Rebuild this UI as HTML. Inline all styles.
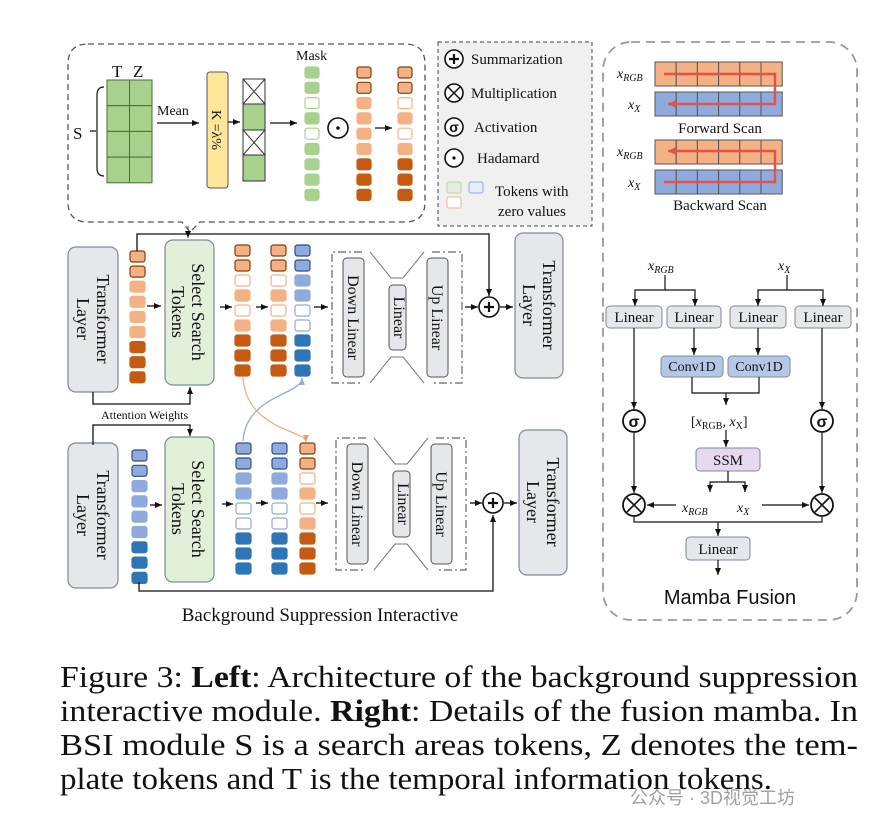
<!DOCTYPE html>
<html><head><meta charset="utf-8">
<style>
html,body{margin:0;padding:0;background:#fff;}
svg{display:block;}
text{font-family:"Liberation Serif",serif;fill:#111;}
.s{font-family:"Liberation Sans",sans-serif;}
</style></head><body>
<svg id="sv" width="884" height="834" viewBox="0 0 884 834" xmlns="http://www.w3.org/2000/svg">
<defs>
<marker id="ar" markerWidth="8" markerHeight="8" refX="7" refY="4" orient="auto" markerUnits="userSpaceOnUse"><path d="M0,1 L7,4 L0,7 z" fill="#111"/></marker>
<marker id="arO" markerWidth="8" markerHeight="8" refX="7" refY="4" orient="auto" markerUnits="userSpaceOnUse"><path d="M0,1 L7,4 L0,7 z" fill="#e8a070"/></marker>
<marker id="arB" markerWidth="8" markerHeight="8" refX="7" refY="4" orient="auto" markerUnits="userSpaceOnUse"><path d="M0,1 L7,4 L0,7 z" fill="#8faadc"/></marker>
<marker id="arR" markerWidth="10" markerHeight="10" refX="8" refY="5" orient="auto" markerUnits="userSpaceOnUse"><path d="M0,1 L8,5 L0,9 z" fill="#e8504a"/></marker>
</defs>

<path d="M88,44 H405 Q425,44 425,64 V202 Q425,222 405,222 H200 L190,232 L182,222 H88 Q68,222 68,202 V64 Q68,44 88,44 Z" fill="none" stroke="#555" stroke-width="1.3" stroke-dasharray="6,4"/>
<line x1="188" y1="226" x2="188" y2="238" stroke="#555" stroke-dasharray="3,2" marker-end="url(#ar)"/>
<g id="grid"></g>
<text x="112" y="77" font-size="17">T</text><text x="133" y="77" font-size="17">Z</text>
<text x="73" y="139" font-size="17">S</text>
<path d="M90,131 H96 M104,87 Q97,87 97,95 V131 V168 Q97,176 104,176" fill="none" stroke="#111" stroke-width="1.2"/>
<text x="157" y="115" font-size="14">Mean</text>
<line x1="157" y1="123" x2="199" y2="123" stroke="#111" stroke-width="1.3" marker-end="url(#ar)"/>
<rect x="207" y="72" width="21" height="116" rx="3" fill="#ffe699" stroke="#555"/>
<text transform="translate(212,130) rotate(90)" text-anchor="middle" font-size="14">K =λ%</text>
<line x1="228" y1="122" x2="240" y2="122" stroke="#111" stroke-width="1.3" marker-end="url(#ar)"/>
<g stroke="#333" stroke-width="1">
<rect x="243" y="79" width="22" height="25" fill="#fff"/><path d="M243,79 L265,104 M265,79 L243,104"/>
<rect x="243" y="104" width="22" height="26" fill="#a9d18e"/>
<rect x="243" y="130" width="22" height="25" fill="#fff"/><path d="M243,130 L265,155 M265,130 L243,155"/>
<rect x="243" y="155" width="22" height="26" fill="#a9d18e"/>
</g>
<line x1="270" y1="123" x2="297" y2="123" stroke="#111" stroke-width="1.3" marker-end="url(#ar)"/>
<text x="296" y="60" font-size="14">Mask</text>
<circle cx="338" cy="128" r="10" fill="#fff" stroke="#111" stroke-width="1.6"/><circle cx="338" cy="128" r="1.8" fill="#111"/>
<line x1="375" y1="128" x2="392" y2="128" stroke="#111" stroke-width="1.3" marker-end="url(#ar)"/>

<rect x="438" y="42" width="154" height="184" fill="#f0f0f0" stroke="#444" stroke-dasharray="4,3"/>
<g stroke="#111" stroke-width="1.6" fill="#fff">
<circle cx="454" cy="59" r="9"/><circle cx="454" cy="93" r="9"/><circle cx="454" cy="127" r="9"/><circle cx="454" cy="158" r="9"/>
</g>
<path d="M449,59 H459 M454,54 V64" stroke="#111" stroke-width="2.2"/>
<path d="M448,87 L460,99 M460,87 L448,99" stroke="#111" stroke-width="1.5"/>
<text x="454" y="132" text-anchor="middle" font-size="14" font-weight="bold" class="s">σ</text>
<circle cx="454" cy="158" r="1.6" fill="#111"/>
<text x="471" y="64" font-size="15">Summarization</text>
<text x="471" y="98" font-size="15">Multiplication</text>
<text x="474" y="132" font-size="15">Activation</text>
<text x="477" y="163" font-size="15">Hadamard</text>
<rect x="447" y="182" width="14" height="11" rx="2" fill="#e2efd9" stroke="#b8d5a8"/>
<rect x="469" y="182" width="14" height="11" rx="2" fill="#e8ecf7" stroke="#8faadc"/>
<rect x="447" y="197" width="14" height="11" rx="2" fill="#fff" stroke="#f4b183"/>
<text x="495" y="196" font-size="15">Tokens with</text>
<text x="498" y="216" font-size="15">zero values</text>

<g stroke="#7f8a9a" stroke-width="1.2">
<rect x="68" y="247" width="50" height="145" rx="8" fill="#e6e7eb"/>
<rect x="165" y="240" width="49" height="145" rx="8" fill="#e2f0d9"/>
<rect x="515" y="233" width="48" height="145" rx="8" fill="#e6e7eb"/>
<rect x="68" y="443" width="50" height="145" rx="8" fill="#e6e7eb"/>
<rect x="165" y="437" width="49" height="145" rx="8" fill="#e2f0d9"/>
<rect x="519" y="430" width="48" height="145" rx="8" fill="#e6e7eb"/>
</g>
<g font-size="18">
<text transform="translate(97,319) rotate(90)" text-anchor="middle">Transformer</text>
<text transform="translate(77,319) rotate(90)" text-anchor="middle">Layer</text>
<text transform="translate(192,312) rotate(90)" text-anchor="middle">Select Search</text>
<text transform="translate(172,312) rotate(90)" text-anchor="middle">Tokens</text>
<text transform="translate(543,305) rotate(90)" text-anchor="middle">Transformer</text>
<text transform="translate(523,305) rotate(90)" text-anchor="middle">Layer</text>
<text transform="translate(97,515) rotate(90)" text-anchor="middle">Transformer</text>
<text transform="translate(77,515) rotate(90)" text-anchor="middle">Layer</text>
<text transform="translate(192,509) rotate(90)" text-anchor="middle">Select Search</text>
<text transform="translate(172,509) rotate(90)" text-anchor="middle">Tokens</text>
<text transform="translate(547,502) rotate(90)" text-anchor="middle">Transformer</text>
<text transform="translate(527,502) rotate(90)" text-anchor="middle">Layer</text>
</g>
<g id="tok"></g>
<g stroke="#111" stroke-width="1.3" fill="none">
<line x1="147" y1="306" x2="161" y2="306" marker-end="url(#ar)"/>
<line x1="220" y1="307" x2="232" y2="307" marker-end="url(#ar)"/>
<line x1="256" y1="307" x2="268" y2="307" marker-end="url(#ar)"/>
<line x1="314" y1="307" x2="328" y2="307" marker-end="url(#ar)"/>
<line x1="465" y1="307" x2="478" y2="307" marker-end="url(#ar)"/>
<line x1="500" y1="307" x2="513" y2="307" marker-end="url(#ar)"/>
<polyline points="137,251 137,234 489,234 489,296" marker-end="url(#ar)"/>
<polyline points="93,392 93,404 190,404 190,387" marker-end="url(#ar)"/>
<line x1="150" y1="505" x2="162" y2="505" marker-end="url(#ar)"/>
<line x1="222" y1="504" x2="233" y2="504" marker-end="url(#ar)"/>
<line x1="256" y1="503" x2="268" y2="503" marker-end="url(#ar)"/>
<line x1="316" y1="503" x2="328" y2="503" marker-end="url(#ar)"/>
<line x1="470" y1="503" x2="482" y2="503" marker-end="url(#ar)"/>
<line x1="504" y1="503" x2="517" y2="503" marker-end="url(#ar)"/>
<polyline points="93,445 93,425 190,425 190,436" marker-end="url(#ar)"/>
<polyline points="139,582 139,591 493,591 493,515" marker-end="url(#ar)"/>
</g>
<text x="101" y="419" font-size="12">Attention Weights</text>
<circle cx="489" cy="307" r="10" fill="#fff" stroke="#111" stroke-width="1.6"/>
<path d="M484,307 H494 M489,302 V312" stroke="#111" stroke-width="2.2"/>
<circle cx="493" cy="503" r="10" fill="#fff" stroke="#111" stroke-width="1.6"/>
<path d="M488,503 H498 M493,498 V508" stroke="#111" stroke-width="2.2"/>
<path d="M243,377 C246,430 306,430 306,442" fill="none" stroke="#f0b080" stroke-width="1.3" marker-end="url(#arO)"/>
<path d="M243,441 C246,395 302,395 302,378" fill="none" stroke="#8faadc" stroke-width="1.3" marker-end="url(#arB)"/>
<g id="dd"></g>
<text x="320" y="621" font-size="19" text-anchor="middle">Background Suppression Interactive</text>

<rect x="603" y="42" width="254" height="578" rx="28" fill="none" stroke="#999" stroke-width="1.8" stroke-dasharray="9,6"/>
<g id="scan"></g>
<g font-size="14">
<text x="617" y="78" font-style="italic">x<tspan font-size="10" dy="3">RGB</tspan></text>
<text x="628" y="109" font-style="italic">x<tspan font-size="10" dy="3">X</tspan></text>
<text x="617" y="156" font-style="italic">x<tspan font-size="10" dy="3">RGB</tspan></text>
<text x="628" y="187" font-style="italic">x<tspan font-size="10" dy="3">X</tspan></text>
<text x="720" y="133" text-anchor="middle" font-size="15">Forward Scan</text>
<text x="720" y="210" text-anchor="middle" font-size="15">Backward Scan</text>
</g>
<g fill="none" stroke="#e8504a" stroke-width="2.5">
<polyline points="664,74 775,74 775,104 668,104" marker-end="url(#arR)"/>
<polyline points="664,182 775,182 775,151 668,151" marker-end="url(#arR)"/>
</g>
<g font-size="14">
<text x="648" y="270" font-style="italic">x<tspan font-size="10" dy="3">RGB</tspan></text>
<text x="778" y="270" font-style="italic">x<tspan font-size="10" dy="3">X</tspan></text>
</g>
<g stroke="#7f8a9a" stroke-width="1">
<rect x="606" y="306" width="56" height="22" rx="4" fill="#e6e7eb"/>
<rect x="667" y="306" width="54" height="22" rx="4" fill="#e6e7eb"/>
<rect x="730" y="306" width="56" height="22" rx="4" fill="#e6e7eb"/>
<rect x="795" y="306" width="56" height="22" rx="4" fill="#e6e7eb"/>
<rect x="661" y="356" width="62" height="21" rx="4" fill="#b4c7e7"/>
<rect x="728" y="356" width="62" height="21" rx="4" fill="#b4c7e7"/>
<rect x="696" y="448" width="64" height="23" rx="4" fill="#e6d8ee"/>
<rect x="686" y="537" width="64" height="23" rx="4" fill="#e6e7eb"/>
</g>
<g font-size="15" text-anchor="middle">
<text x="634" y="322">Linear</text><text x="694" y="322">Linear</text>
<text x="758" y="322">Linear</text><text x="823" y="322">Linear</text>
<text x="692" y="371" font-size="14">Conv1D</text><text x="759" y="371" font-size="14">Conv1D</text>
<text x="728" y="465">SSM</text>
<text x="718" y="554">Linear</text>
</g>
<text x="691" y="426" font-size="14">[<tspan font-style="italic">x</tspan><tspan font-size="10" dy="3">RGB</tspan><tspan dy="-3">, </tspan><tspan font-style="italic">x</tspan><tspan font-size="10" dy="3">X</tspan><tspan dy="-3">]</tspan></text>
<text x="682" y="512" font-size="14" font-style="italic">x<tspan font-size="10" dy="3">RGB</tspan></text>
<text x="737" y="512" font-size="14" font-style="italic">x<tspan font-size="10" dy="3">X</tspan></text>
<g stroke="#111" stroke-width="1.2" fill="none">
<line x1="665" y1="275" x2="665" y2="290"/>
<polyline points="635,305 635,290 695,290 695,305"/>
<line x1="635" y1="298" x2="635" y2="306" marker-end="url(#ar)"/>
<line x1="695" y1="298" x2="695" y2="306" marker-end="url(#ar)"/>
<line x1="787" y1="275" x2="787" y2="290"/>
<polyline points="758,305 758,290 823,290 823,305"/>
<line x1="758" y1="298" x2="758" y2="306" marker-end="url(#ar)"/>
<line x1="823" y1="298" x2="823" y2="306" marker-end="url(#ar)"/>
<line x1="694" y1="328" x2="694" y2="355" marker-end="url(#ar)"/>
<line x1="758" y1="328" x2="758" y2="355" marker-end="url(#ar)"/>
<polyline points="692,377 692,393 759,393 759,377"/>
<line x1="726" y1="393" x2="726" y2="405" marker-end="url(#ar)"/>
<line x1="726" y1="430" x2="726" y2="447" marker-end="url(#ar)"/>
<line x1="728" y1="471" x2="728" y2="482"/>
<polyline points="710,492 710,482 745,482 745,492"/>
<line x1="710" y1="486" x2="710" y2="492" marker-end="url(#ar)"/>
<line x1="745" y1="486" x2="745" y2="492" marker-end="url(#ar)"/>
<line x1="634" y1="328" x2="634" y2="409" marker-end="url(#ar)"/>
<line x1="822" y1="328" x2="822" y2="409" marker-end="url(#ar)"/>
<line x1="634" y1="433" x2="634" y2="493" marker-end="url(#ar)"/>
<line x1="822" y1="433" x2="822" y2="493" marker-end="url(#ar)"/>
<line x1="676" y1="505" x2="647" y2="505" marker-end="url(#ar)"/>
<line x1="762" y1="505" x2="809" y2="505" marker-end="url(#ar)"/>
<polyline points="634,517 634,522 822,522 822,517"/>
<line x1="718" y1="522" x2="718" y2="536" marker-end="url(#ar)"/>
<line x1="718" y1="560" x2="718" y2="575" marker-end="url(#ar)"/>
</g>
<g stroke="#111" stroke-width="1.8" fill="#fff">
<circle cx="634" cy="421" r="11"/><circle cx="822" cy="421" r="11"/>
<circle cx="634" cy="505" r="11"/><circle cx="822" cy="505" r="11"/>
</g>
<text x="634" y="427" text-anchor="middle" font-size="16" font-weight="bold" class="s">σ</text>
<text x="822" y="427" text-anchor="middle" font-size="16" font-weight="bold" class="s">σ</text>
<path d="M627,498 L641,512 M641,498 L627,512 M815,498 L829,512 M829,498 L815,512" stroke="#111" stroke-width="1.6"/>
<text x="730" y="604" text-anchor="middle" font-size="20" class="s">Mamba Fusion</text>

<g font-size="31">
<text x="60" y="687" textLength="798" lengthAdjust="spacingAndGlyphs">Figure 3: <tspan font-weight="bold">Left</tspan>: Architecture of the background suppression</text>
<text x="60" y="721" textLength="798" lengthAdjust="spacingAndGlyphs">interactive module. <tspan font-weight="bold">Right</tspan>: Details of the fusion mamba. In</text>
<text x="60" y="755" textLength="798" lengthAdjust="spacingAndGlyphs">BSI module S is a search areas tokens, Z denotes the tem-</text>
<text x="60" y="789" textLength="712" lengthAdjust="spacingAndGlyphs">plate tokens and T is the temporal information tokens.</text>
</g>
<text x="630" y="804" font-size="18" style="fill:#a0a0a0;font-family:'Liberation Sans','Noto Sans CJK SC',sans-serif">公众号 · 3D视觉工坊</text>
</svg>
<script>
var NS="http://www.w3.org/2000/svg";
function el(p,t,a){var e=document.createElementNS(NS,t);for(var k in a)e.setAttribute(k,a[k]);p.appendChild(e);return e;}
var S={
 oo:["#f4b183","#843c0c"], ol:["#f4b183","#f4b183"], od:["#c55a11","#c55a11"], ow:["#fff","#f4b183"],
 bo:["#8faadc","#2f4f80"], bl:["#8faadc","#8faadc"], bd:["#2e75b6","#2e75b6"], bw:["#fff","#8faadc"],
 g:["#a9d18e","#a9d18e"], gw:["#fff","#a9d18e"]};
var tok=document.getElementById("tok");
function col(x,y,step,list,w,h){list.forEach(function(k,i){var c=S[k];el(tok,"rect",{x:x,y:y+i*step,width:w||15,height:h||11,rx:2.5,fill:c[0],stroke:c[1],"stroke-width":1.2});});}
var O1=["oo","oo","ol","ol","ol","ol","od","od","od"];
var OA=["oo","oo","ow","ol","ow","ol","od","od","od"];
var B1=["bo","bo","bl","bl","bl","bl","bd","bd","bd"];
var BA=["bo","bo","bl","bl","bw","bw","bd","bd","bd"];
col(305,67,15.3,["g","g","gw","g","gw","g","g","g","g"],14,11);
col(357,67,15.3,["oo","oo","ol","ol","ol","ol","od","od","od"],14,11);
col(398,67,15.3,["oo","oo","ow","ol","ow","ol","od","od","od"],14,11);
col(130,251,15.1,O1);
col(235,245,15,OA);col(271,245,15,OA);col(295,245,15,BA);
col(132,450,15.3,B1);
col(236,443,15,BA);col(272,443,15,BA);col(300,443,15,OA);
var g=document.getElementById("grid");
for(var r=0;r<4;r++)for(var c=0;c<2;c++)el(g,"rect",{x:107+c*22.5,y:80+r*25.7,width:22.5,height:25.7,fill:"#a9d18e",stroke:"#4a6a3a","stroke-width":1});
var dd=document.getElementById("dd");
[[252,383,332,462],[438,570,336,466]].forEach(function(b){
 var y1=b[0],y2=b[1],x1=b[2],x2=b[3];
 var p={fill:"none",stroke:"#666","stroke-width":1.2,"stroke-dasharray":"8,3,2,3"};
 el(dd,"polyline",Object.assign({points:(x1+30)+","+y1+" "+x1+","+y1+" "+x1+","+y2+" "+(x1+30)+","+y2},p));
 el(dd,"polyline",Object.assign({points:(x2-30)+","+y1+" "+x2+","+y1+" "+x2+","+y2+" "+(x2-30)+","+y2},p));
 var mx=(x1+x2)/2;
 el(dd,"polyline",{points:(x1+38)+","+y1+" "+(mx-6)+","+(y1+26)+" "+(mx+6)+","+(y1+26)+" "+(x2-38)+","+y1,fill:"none",stroke:"#777","stroke-width":1});
 el(dd,"polyline",{points:(x1+38)+","+y2+" "+(mx-6)+","+(y2-26)+" "+(mx+6)+","+(y2-26)+" "+(x2-38)+","+y2,fill:"none",stroke:"#777","stroke-width":1});
 var bs=[[x1+11,y1+6,21,y2-y1-12],[mx-8,y1+33,17,y2-y1-66],[x2-35,y1+6,21,y2-y1-12]];
 bs.forEach(function(q){el(dd,"rect",{x:q[0],y:q[1],width:q[2],height:q[3],rx:4,fill:"#e6e7eb",stroke:"#555","stroke-width":1});});
 var labels=["Down Linear","Linear","Up Linear"];
 bs.forEach(function(q,i){var t=el(dd,"text",{transform:"translate("+(q[0]+5)+","+(q[1]+q[3]/2)+") rotate(90)","text-anchor":"middle","font-size":16});t.textContent=labels[i];});
});
var sc=document.getElementById("scan");
[[62,"#f4b183"],[92,"#8faadc"],[140,"#f4b183"],[170,"#8faadc"]].forEach(function(b){
 for(var i=0;i<6;i++)el(sc,"rect",{x:655+i*21.2,y:b[0],width:21.2,height:24,fill:b[1],stroke:"#555","stroke-width":1});});
</script>
</body></html>
